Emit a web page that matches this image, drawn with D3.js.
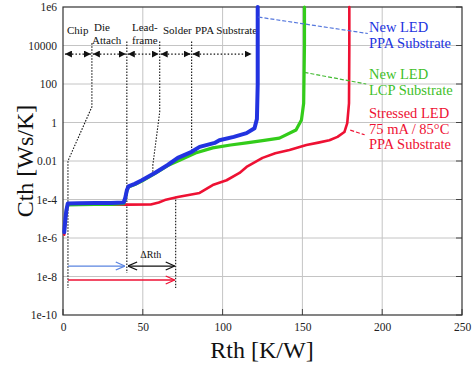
<!DOCTYPE html>
<html><head><meta charset="utf-8">
<script src="https://cdn.jsdelivr.net/npm/d3@7/dist/d3.min.js"></script>
<style>body{margin:0;background:#fff}svg{display:block}</style>
</head><body>
<svg id="c" width="474" height="366" font-family="Liberation Serif"></svg>
<script>
// ---- data (Rth [K/W], Cth [Ws/K]) ----
const blueRth = [0.8,1.5,2.2,3,10,20,30,38,39,40,41,45,49.4,57.5,65.6,71.9,80.6,85.6,95,98,107,115,120,121.5,122,122,122];
const blueCth = [2e-6,1e-5,3e-5,6.2e-5,6.4e-5,6.5e-5,6.6e-5,7e-5,1.2e-4,3e-4,4.8e-4,6.5e-4,1e-3,2.4e-3,6.2e-3,0.0144,0.03,0.054,0.087,0.12,0.18,0.28,0.5,1.5,100,1e4,1e6];
const greenRth = [1.5,2.2,3,10,20,30,38,39,40,41,45,49.4,57.5,65.6,73,83,93.8,105,115,125,135.6,146,149.4,150.8,151.3,151.3];
const greenCth = [1e-5,3e-5,5.3e-5,5.4e-5,5.5e-5,5.6e-5,6e-5,1.1e-4,2.8e-4,4.5e-4,6e-4,9e-4,2.2e-3,5.8e-3,0.011,0.026,0.048,0.068,0.087,0.115,0.155,0.41,1.35,10,1e4,1e6];
const redRth = [0.8,1.5,2.2,3,20,40,55,60,63.8,71.9,85.6,93.8,102.5,110.6,115,125,133,141.9,152.5,160,166.9,172,176.3,178.1,179.2,179.4,179.4];
const redCth = [1.5e-6,8e-6,2.5e-5,5.5e-5,5.5e-5,5.4e-5,5.5e-5,7e-5,9.3e-5,1.35e-4,2.2e-4,5.6e-4,1e-3,2.4e-3,4.9e-3,0.0145,0.025,0.037,0.067,0.09,0.12,0.18,0.32,0.93,10,1e4,1e6];
const yTickValues = [1e-10,1e-8,1e-6,1e-4,1e-2,1,100,1e4,1e6];
const yTickLabels = ["1e-10","1e-8","1e-6","1e-4","0.01","1","100","10000","1e6"];
const xTickValues = [0,50,100,150,200,250];
const xTickLabels = ["0","50","100","150","200","250"];
const regionLabels = [["Chip"],["Die","Attach"],["Lead-","frame"],["Solder"],["PPA Substrate"]];
const regionBounds = [0.6,18.1,40,60.6,80.6,118.8];
const legendLines = [["New LED","PPA Substrate"],["New LED","LCP Substrate"],["Stressed LED","75 mA / 85°C","PPA Substrate"]];

const colBlue="#2233e0", colGreen="#33cc1a", colRed="#ee1133";
const FONT="Liberation Serif";
const svg=d3.select("#c");
const L=63,R=462,T=7,B=315;
const x=d3.scaleLinear().domain([0,250]).range([L,R]);
const y=d3.scaleLog().domain([1e-10,1e6]).range([B,T]);

// grid
svg.append("g").selectAll("line").data(yTickValues.slice(1,-1)).join("line")
  .attr("x1",L).attr("x2",R).attr("y1",d=>y(d)).attr("y2",d=>y(d)).attr("stroke","#c4c4c4").attr("stroke-width",1);
svg.append("g").selectAll("line").data(xTickValues.slice(1,-1)).join("line")
  .attr("y1",T).attr("y2",B).attr("x1",d=>x(d)).attr("x2",d=>x(d)).attr("stroke","#c4c4c4").attr("stroke-width",1);

// axes
const ax=d3.axisLeft(y).tickValues(yTickValues).tickFormat((d,i)=>yTickLabels[i]).tickSize(0).tickPadding(6);
const gy=svg.append("g").attr("transform",`translate(${L},0)`).call(ax);
const bx=d3.axisBottom(x).tickValues(xTickValues).tickFormat((d,i)=>xTickLabels[i]).tickSize(0).tickPadding(8);
const gx=svg.append("g").attr("transform",`translate(0,${B})`).call(bx);
[gy,gx].forEach(g=>{g.attr("font-family",FONT).attr("font-size",11.5);g.select(".domain").remove();g.selectAll("text").attr("fill","#222");});
// inward ticks on right & bottom
svg.append("g").selectAll("line").data(yTickValues).join("line")
  .attr("x1",R-6).attr("x2",R).attr("y1",d=>y(d)).attr("y2",d=>y(d)).attr("stroke","#444");
svg.append("g").selectAll("line").data(xTickValues).join("line")
  .attr("y1",B-6).attr("y2",B).attr("x1",d=>x(d)).attr("x2",d=>x(d)).attr("stroke","#444");
svg.append("rect").attr("x",L).attr("y",T).attr("width",R-L).attr("height",B-T).attr("fill","none").attr("stroke","#333").attr("stroke-width",1.2);

// axis titles
svg.append("text").attr("x",262).attr("y",358).attr("text-anchor","middle").attr("font-size",24).attr("font-family",FONT).attr("fill","#111").text("Rth [K/W]");
svg.append("text").attr("transform","translate(33,161) rotate(-90)").attr("text-anchor","middle").attr("font-size",24).attr("font-family",FONT).attr("fill","#111").text("Cth [Ws/K]");

// defs arrows
const defs=svg.append("defs");
defs.append("marker").attr("id","ah").attr("viewBox","0 0 10 10").attr("refX",10).attr("refY",5).attr("markerWidth",7).attr("markerHeight",7).attr("orient","auto-start-reverse").attr("markerUnits","userSpaceOnUse")
  .append("path").attr("d","M0,0L10,5L0,10z").attr("fill","#111");
function openHead(id,c){defs.append("marker").attr("id",id).attr("viewBox","0 0 10 10").attr("refX",10).attr("refY",5).attr("markerWidth",10).attr("markerHeight",10).attr("orient","auto-start-reverse").attr("markerUnits","userSpaceOnUse")
  .append("path").attr("d","M1,1L10,5L1,9").attr("fill","none").attr("stroke",c).attr("stroke-width",1.3);}
openHead("ob","#5a84e0");openHead("ok","#111");openHead("or",colRed);

// region dotted arrows
const arrowY=3600;
for(let i=0;i<regionBounds.length-1;i++){
  svg.append("line").attr("x1",x(regionBounds[i])+1).attr("x2",x(regionBounds[i+1])-1).attr("y1",y(arrowY)).attr("y2",y(arrowY))
    .attr("stroke","#111").attr("stroke-width",1.2).attr("stroke-dasharray","1.5,2")
    .attr("marker-start","url(#ah)").attr("marker-end","url(#ah)");
}
// region labels
const labelX=[67,94,132,163,195];
regionLabels.forEach((ls,i)=>{
  ls.forEach((t,j)=>svg.append("text").attr("x",labelX[i]+(t==="Attach"?-2:0)).attr("y",(ls.length===1?34:31)+j*13).attr("font-size",11).attr("font-family",FONT).attr("fill","#111").text(t));
});

// dotted guide lines (data coordinates)
const guides=[
  [[18.1,1.3e4],[18.1,6.5],[3.1,0.01],[3.1,2.5e-9]],
  [[40,1.6e4],[40,1.5e-8]],
  [[60.6,1.6e4],[60.6,3.5],[56.3,0.0063],[56.3,0.0025]],
  [[80.6,1.6e4],[80.6,0.037]],
  [[70.6,1.4e-4],[70.6,2.5e-9]]
];
const gl=d3.line().x(d=>x(d[0])).y(d=>y(d[1]));
guides.forEach(g=>svg.append("path").attr("d",gl(g)).attr("fill","none").attr("stroke","#111").attr("stroke-width",1.1).attr("stroke-dasharray","1.5,1.5"));

// curves
const series=[[redRth,redCth,colRed,2.6],[greenRth,greenCth,colGreen,3.2],[blueRth,blueCth,colBlue,4]];
const lineLin=d3.line().x(d=>x(d[0])).y(d=>y(d[1]));
series.forEach(([xs,ys,c,w])=>{
  const pts=xs.map((v,i)=>[v,ys[i]]);
  svg.append("path").attr("d",lineLin(pts)).attr("fill","none").attr("stroke",c).attr("stroke-width",w).attr("stroke-linejoin","round").attr("stroke-linecap","round");
});

// bottom arrows ΔRth
const ay1=3.5e-8, ay2=6.6e-9;
svg.append("line").attr("x1",x(3.1)).attr("x2",x(38.7)).attr("y1",y(ay1)).attr("y2",y(ay1)).attr("stroke","#5a84e0").attr("stroke-width",1.3).attr("marker-end","url(#ob)");
svg.append("line").attr("x1",x(40.8)).attr("x2",x(70)).attr("y1",y(ay1)).attr("y2",y(ay1)).attr("stroke","#111").attr("stroke-width",1.3).attr("marker-start","url(#ok)").attr("marker-end","url(#ok)");
svg.append("line").attr("x1",x(3.1)).attr("x2",x(70)).attr("y1",y(ay2)).attr("y2",y(ay2)).attr("stroke",colRed).attr("stroke-width",1.5).attr("marker-end","url(#or)");
svg.append("text").attr("x",x(55)).attr("y",y(ay1)-8).attr("text-anchor","middle").attr("font-size",10).attr("font-family",FONT).attr("fill","#111").text("ΔRth");

// legend labels and leaders
const legCols=[colBlue,"#3fbf2a",colRed];
const legY=[27,74,113];
legendLines.forEach((ls,i)=>ls.forEach((t,j)=>svg.append("text").attr("x",369).attr("y",legY[i]+5+j*15.5).attr("font-size",14.5).attr("font-family",FONT).attr("fill",legCols[i]).text(t)));
const leaders=[[[122.5,3e5],[191,4.2e4]],[[151.3,400],[190,100]],[[180,0.4],[189,0.23]]];
leaders.forEach((p,i)=>svg.append("path").attr("d",gl(p)).attr("stroke",[ "#5577dd","#44bb33",colRed][i]).attr("stroke-width",1.2).attr("stroke-dasharray","4,2").attr("fill","none"));
</script></body></html>
